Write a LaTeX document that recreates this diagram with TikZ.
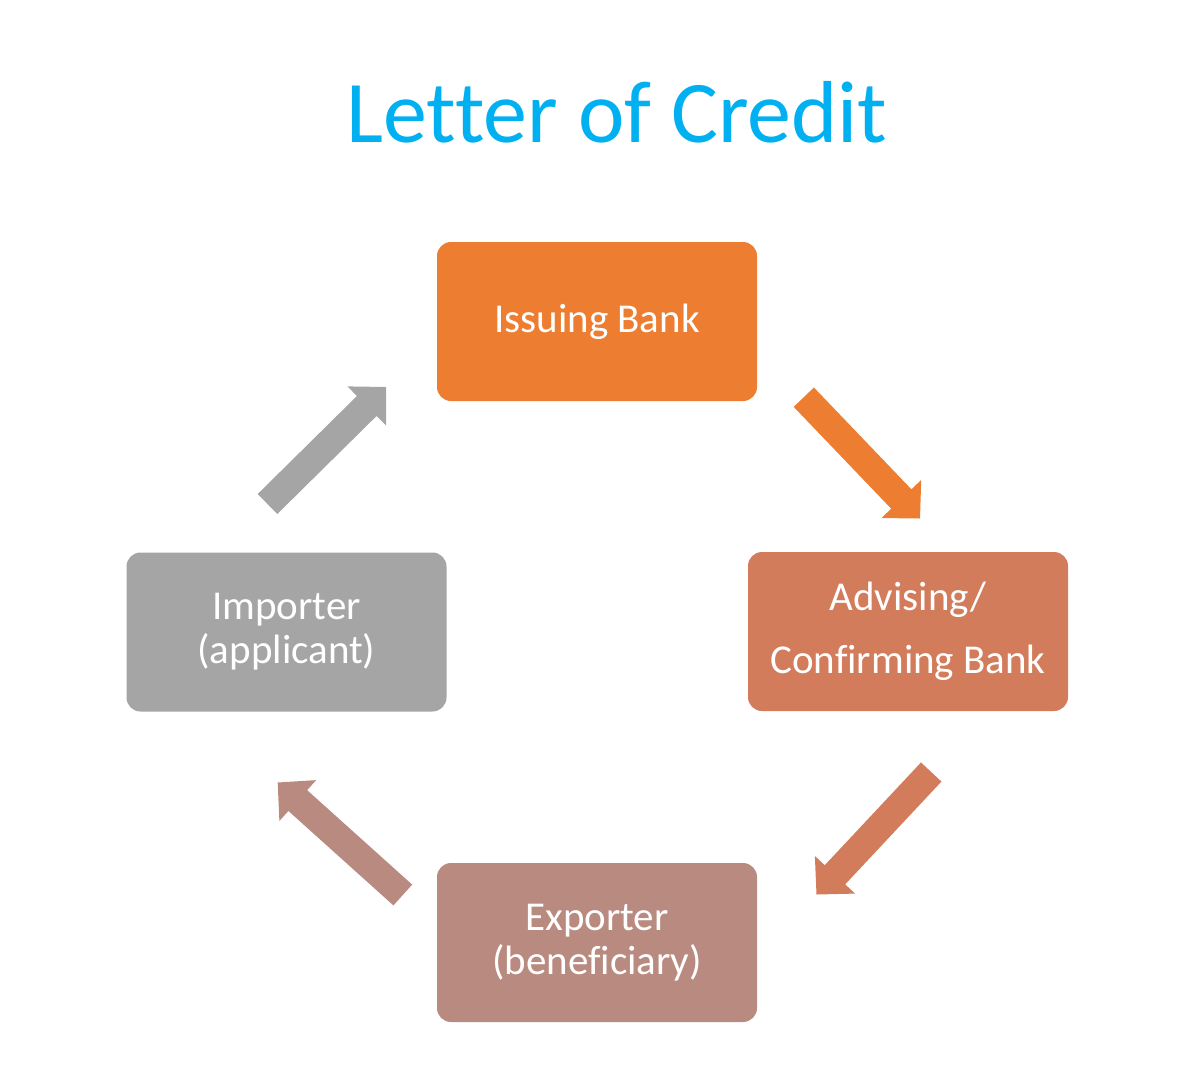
\documentclass[tikz,border=0pt]{standalone}
\usepackage{fontspec}
\setmainfont{Carlito}[Ligatures={NoCommon}]
\usetikzlibrary{calc}
\definecolor{cIssuing}{HTML}{ED7D31}
\definecolor{cAdvising}{HTML}{D27C5C}
\definecolor{cExporter}{HTML}{B98A80}
\definecolor{cImporter}{HTML}{A5A5A5}
\definecolor{cTitle}{HTML}{00B0F0}
\newcommand\blockarrow[3]{% #1 colour, #2 start, #3 tip
  \coordinate (hb) at ($(#3)!27pt!(#2)$);
  \fill[#1] (#3) -- ($(hb)!27.5pt!90:(#3)$) -- ($(hb)!14pt!90:(#3)$)
    -- ($(#2)!14pt!90:(#3)$) -- ($(#2)!14pt!-90:(#3)$)
    -- ($(hb)!14pt!-90:(#3)$) -- ($(hb)!27.5pt!-90:(#3)$) -- cycle;}
\tikzset{
  boxnode/.style={rectangle, rounded corners=14pt, minimum width=320pt,
    minimum height=159pt, inner sep=0pt, text=white, align=center,
    font=\fontsize{41}{44}\selectfont},
}
\begin{document}
\begin{tikzpicture}[x=1pt,y=-1pt]
\useasboundingbox (0,0) rectangle (1195,1088);
\node[anchor=base, text=cTitle, font=\fontsize{88}{96}\selectfont, inner sep=0pt] (title) at (617,142) {Letter of Credit};
\node[boxnode, fill=cIssuing] (ib) at (597,321.5) {Issuing Bank};
\node[boxnode, fill=cAdvising] (ab) at (908,631.5) {Advising/\\[19pt]Confirming Bank};
\node[boxnode, fill=cExporter] (ex) at (597,942.5) {Exporter\\(beneficiary)};
\node[boxnode, fill=cImporter] (im) at (286.5,632) {Importer\\(applicant)};
\coordinate (a1s) at (267.5,504);   \coordinate (a1t) at (386,387);
\coordinate (a2s) at (803.8,397.2); \coordinate (a2t) at (920,518.5);
\coordinate (a3s) at (931.2,772);   \coordinate (a3t) at (816.5,894.5);
\coordinate (a4s) at (402.8,895);   \coordinate (a4t) at (277.7,782.5);
\blockarrow{cImporter}{a1s}{a1t}
\blockarrow{cIssuing}{a2s}{a2t}
\blockarrow{cAdvising}{a3s}{a3t}
\blockarrow{cExporter}{a4s}{a4t}
\end{tikzpicture}
\end{document}
